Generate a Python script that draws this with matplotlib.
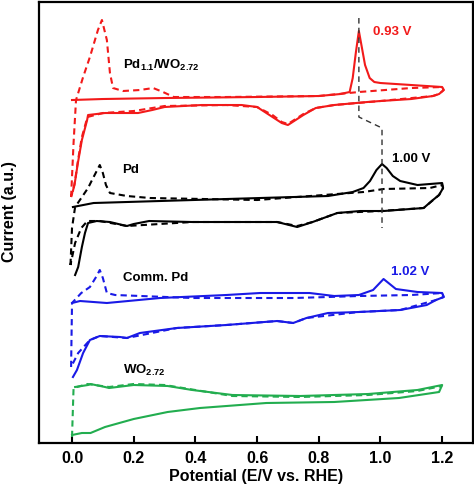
import matplotlib
matplotlib.use("Agg")
import matplotlib.pyplot as plt

# potentials (V vs RHE) and currents (a.u.)
# Pd1.1/WO2.72
red_solid_e = [0.0, 0.1, 0.3, 0.6, 0.8, 0.87, 0.9, 0.91, 0.92, 0.93, 0.94,
               0.95, 0.965, 0.98, 1.0, 1.1, 1.2, 1.205, 1.19, 1.17, 1.1, 1.0,
               0.957, 0.85, 0.79, 0.75, 0.72, 0.70, 0.68, 0.65, 0.63, 0.6, 0.55,
               0.42, 0.3, 0.26, 0.214, 0.107, 0.052, 0.049, 0.032, 0.019, 0.01,
               0.003]
red_solid_i = [343, 344, 345, 346, 347, 349, 351, 365, 390, 412, 395,
               378, 365, 361, 360, 358, 356, 353, 349, 347, 344, 342,
               341, 338, 335, 328, 322, 318, 320, 326, 330, 336, 338,
               338, 336, 333, 330, 330, 328, 323, 303, 280, 262,
               252]
red_dash_e = [-0.003, 0.005, 0.013, 0.036, 0.058, 0.084, 0.097, 0.113, 0.123,
              0.133, 0.165, 0.22, 0.263, 0.295, 0.33, 0.5, 0.8, 0.93, 1.1, 1.2,
              1.205, 1.19, 1.17, 1.0, 0.85, 0.79, 0.75, 0.7, 0.68, 0.65, 0.6,
              0.5, 0.3, 0.2, 0.1, 0.05, 0.032, 0.019, 0.008, -0.003]
red_dash_i = [246, 300, 343, 366, 386, 413, 423, 403, 370,
              355, 352, 353, 355, 351, 346, 346, 347, 351, 355, 356,
              353, 349, 347, 342, 338, 335, 329, 319, 321, 328, 336,
              338, 337, 332, 330, 326, 306, 282, 258, 246]

# Pd
blk_solid_e = [0.003, 0.07, 0.285, 0.61, 0.83, 0.91, 0.945, 0.966, 0.987,
               1.005, 1.02, 1.04, 1.064, 1.12, 1.2, 1.203, 1.19, 1.17, 1.14,
               1.01, 0.934, 0.86, 0.78, 0.73, 0.665, 0.39, 0.25, 0.2, 0.178,
               0.15, 0.123, 0.08, 0.052, 0.042, 0.032, 0.02, 0.01]
blk_solid_i = [236, 240, 242, 245, 247, 251, 255, 262, 273,
               279, 275, 267, 262, 258, 260, 255, 248, 243, 235,
               232, 232, 230, 221, 216, 221, 221, 222, 219, 217,
               219, 221, 222, 220, 210, 196, 176, 168]
blk_dash_e = [-0.005, 0.0, 0.01, 0.03, 0.052, 0.065, 0.09, 0.1, 0.11, 0.123,
              0.178, 0.253, 0.6, 0.945, 1.01, 1.16, 1.2, 1.203, 1.19, 1.14,
              1.0, 0.86, 0.78, 0.73, 0.665, 0.39, 0.178, 0.09, 0.05, 0.03,
              0.01, -0.005]
blk_dash_i = [178, 215, 236, 245, 255, 263, 278, 270, 258, 250,
              247, 245, 243, 251, 254, 255, 258, 255, 248, 235,
              232, 230, 221, 217, 221, 221, 217, 222, 222, 215,
              200, 178]

# Comm. Pd
blu_solid_e = [0.0, 0.026, 0.113, 0.285, 0.5, 0.61, 0.77, 0.85, 0.93, 0.976,
               1.01, 1.05, 1.12, 1.2, 1.205, 1.18, 1.15, 1.064, 0.93, 0.83,
               0.76, 0.717, 0.665, 0.5, 0.34, 0.22, 0.178, 0.156, 0.09, 0.058,
               0.036, 0.016, 0.003]
blu_solid_i = [140, 142, 140, 145, 148, 150, 150, 147, 148, 153,
               164, 154, 151, 150, 146, 143, 138, 133, 131, 130,
               125, 120, 122, 118, 115, 110, 105, 106, 107, 103,
               90, 73, 66]
blu_dash_e = [-0.003, 0.0, 0.03, 0.058, 0.08, 0.09, 0.1, 0.113, 0.14, 0.39,
              0.72, 0.83, 0.93, 1.1, 1.2, 1.205, 1.18, 1.064, 0.93, 0.76,
              0.717, 0.665, 0.5, 0.34, 0.178, 0.09, 0.058, 0.02, -0.003]
blu_dash_i = [76, 140, 150, 156, 167, 173, 165, 150, 148, 145,
              145, 146, 147, 148, 150, 146, 143, 133, 131, 125,
              120, 122, 118, 115, 105, 107, 103, 90, 76]

# WO2.72
grn_solid_e = [0.01, 0.052, 0.06, 0.107, 0.12, 0.2, 0.31, 0.39, 0.52,
               0.74, 0.96, 1.12, 1.2, 1.19, 1.06, 0.85, 0.63, 0.415, 0.31,
               0.2, 0.107, 0.06, 0.032, 0.0]
grn_solid_i = [56, 58, 59, 56, 55, 58, 57, 53, 48,
               47, 49, 53, 58, 51, 45, 41, 40, 35, 31,
               24, 16, 10, 10, 8]
grn_dash_e = [0.0, 0.005, 0.05, 0.12, 0.2, 0.3, 0.4, 0.52, 0.74, 0.96, 1.12, 1.2]
grn_dash_i = [6, 55, 59, 56, 59, 58, 53, 47, 46, 48, 52, 57]

# peak shift guide
guide_e = [0.93, 0.93, 1.005, 1.005]
guide_i = [425, 326, 315, 215]

xticks = [0.0, 0.2, 0.4, 0.6, 0.8, 1.0, 1.2]


def main():
    plt.rcParams["font.family"] = "Liberation Sans"
    plt.rcParams["font.weight"] = "bold"
    plt.rcParams["mathtext.fontset"] = "custom"
    plt.rcParams["mathtext.bf"] = "Liberation Sans:bold"
    plt.rcParams["mathtext.rm"] = "Liberation Sans:bold"
    plt.rcParams["mathtext.default"] = "bf"

    fig = plt.figure(figsize=(4.74, 4.92), dpi=100)
    ax = fig.add_axes([0.0823, 0.0996, 0.9156, 0.8963])

    red, blue, green = "#f21a1a", "#1a1ae6", "#22ad4f"
    lw = 1.5
    dash = (3, 2)

    series = [
        (red_dash_e, red_dash_i, red_solid_e, red_solid_i, red),
        (blk_dash_e, blk_dash_i, blk_solid_e, blk_solid_i, "black"),
        (blu_dash_e, blu_dash_i, blu_solid_e, blu_solid_i, blue),
    ]
    for de, di, se, si, c in series:
        ax.plot(se, si, color=c, lw=lw, solid_joinstyle="round")
        ax.plot(de, di, color=c, lw=lw, linestyle=(0, dash))

    ax.plot(grn_solid_e, grn_solid_i, color=green, lw=lw)
    ax.plot(grn_dash_e, grn_dash_i, color=green, lw=lw, linestyle=(0, dash))

    ax.plot(guide_e, guide_i, color="#333333", lw=1.0, linestyle=(0, (4, 3)))

    fs = 9.5
    ax.text(0.165, 378, r"Pd$_{1.1}$/WO$_{2.72}$", fontsize=fs, va="center")
    ax.text(0.976, 411, "0.93 V", color=red, fontsize=fs, va="center")
    ax.text(0.162, 273, "Pd", fontsize=fs, va="center")
    ax.text(1.038, 284, "1.00 V", fontsize=fs, va="center")
    ax.text(0.165, 165, "Comm. Pd", fontsize=fs, va="center")
    ax.text(1.035, 171, "1.02 V", color=blue, fontsize=fs, va="center")
    ax.text(0.165, 73, r"WO$_{2.72}$", fontsize=fs, va="center")

    ax.set_xlim(-0.107, 1.30)
    ax.set_ylim(0, 441)
    ax.set_xticks(xticks)
    ax.set_xticklabels([f"{t:.1f}" for t in xticks], fontsize=11.5,
                       fontweight="bold")
    ax.set_yticks([])
    ax.tick_params(axis="x", direction="in", length=5, width=1.5, pad=6)
    for s in ax.spines.values():
        s.set_linewidth(1.6)

    ax.set_xlabel("Potential (E/V vs. RHE)", fontsize=11.5, fontweight="bold",
                  labelpad=2)
    fig.text(0.019, 0.571, "Current (a.u.)", rotation=90, fontsize=11.5,
             fontweight="bold", ha="center", va="center")

    fig.savefig("out.png", dpi=100)


if __name__ == "__main__":
    main()
